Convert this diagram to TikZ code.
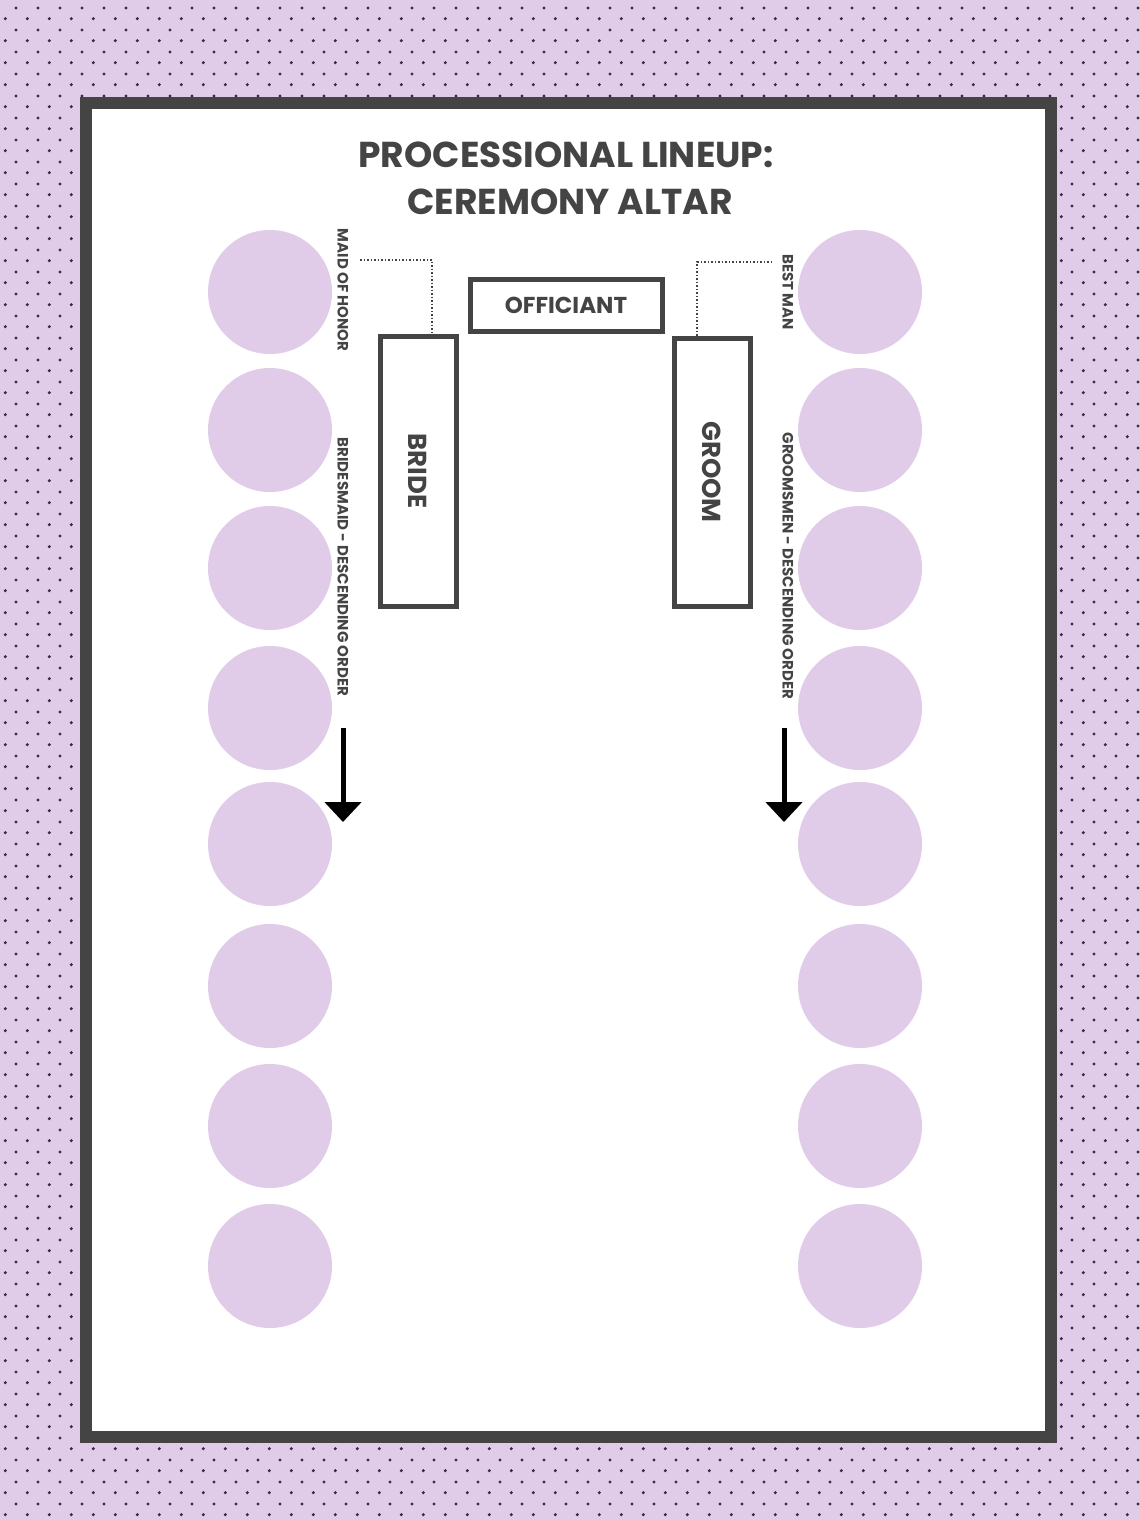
\documentclass[tikz,border=0pt]{standalone}
\usepackage{fontspec}
\setmainfont{Poppins}
\usetikzlibrary{arrows.meta,patterns}
\definecolor{lil}{HTML}{E0CCE8}
\definecolor{dk}{HTML}{444444}
\definecolor{dot}{HTML}{3A2A40}
\pgfdeclarepatternformonly{pdots}{\pgfpointorigin}{\pgfqpoint{21.7pt}{21.7pt}}{\pgfqpoint{21.7pt}{21.7pt}}{%
  \pgfpathcircle{\pgfqpoint{5.4pt}{5.4pt}}{1.7pt}%
  \pgfpathcircle{\pgfqpoint{16.25pt}{16.25pt}}{1.7pt}%
  \pgfusepath{fill}}
\tikzset{seat/.style={circle,fill=lil,minimum size=124pt,inner sep=0pt},
 role/.style={draw=dk,line width=5pt,inner sep=0pt},
 lab/.style={text=dk,font=\bfseries\fontsize{15}{15}\selectfont,rotate=-90},
 big/.style={text=dk,font=\bfseries\fontsize{26}{26}\selectfont,rotate=-90},
 guide/.style={dk,dotted,line width=1.5pt},
 arr/.style={black,line width=5pt,-{Triangle[width=36pt,length=20pt]}}}
\begin{document}
\begin{tikzpicture}[x=1pt,y=-1pt]
\useasboundingbox (0,0) rectangle (1140,1520);
\fill[lil] (0,0) rectangle (1140,1520);
\fill[pattern=pdots,pattern color=dot] (0,0) rectangle (1140,1520);
\draw[dk,line width=12pt,fill=white] (86,103) rectangle (1051,1437);
\node[text=dk,font=\bfseries\fontsize{36}{36}\selectfont] (t1) at (566,155) {PROCESSIONAL LINEUP:};
\node[text=dk,font=\bfseries\fontsize{36}{36}\selectfont] (t2) at (570,202) {CEREMONY ALTAR};
\foreach \y [count=\i] in {292,430,568,708,844,986,1126,1266}{
  \node[seat] (l\i) at (270,\y) {};
  \node[seat] (r\i) at (860,\y) {};
}
\node[role,minimum width=76pt,minimum height=270pt] (bride) at (418,471) {};
\node[big] at (bride) {BRIDE};
\node[role,minimum width=76pt,minimum height=268pt] (groom) at (712,472) {};
\node[big] at (groom) {GROOM};
\node[role,minimum width=192pt,minimum height=52pt,text=dk,font=\bfseries\fontsize{23}{23}\selectfont] (off) at (566,305) {OFFICIANT};
\node[lab] (moh) at (343,290) {MAID OF HONOR};
\node[lab] (bm) at (343,567) {BRIDESMAID - DESCENDING ORDER};
\node[lab] (best) at (788,292) {BEST MAN};
\node[lab] (gm) at (788,566) {GROOMSMEN - DESCENDING ORDER};
\coordinate (a) at (360,260);
\coordinate (b) at (772,262);
\draw[guide] (a) -| ([xshift=14pt]bride.north);
\draw[guide] (b) -| ([xshift=-15pt]groom.north);
\coordinate (la1) at (343,728); \coordinate (la2) at (343,822);
\coordinate (ra1) at (784,728); \coordinate (ra2) at (784,822);
\draw[arr] (la1) -- (la2);
\draw[arr] (ra1) -- (ra2);
\end{tikzpicture}
\end{document}
